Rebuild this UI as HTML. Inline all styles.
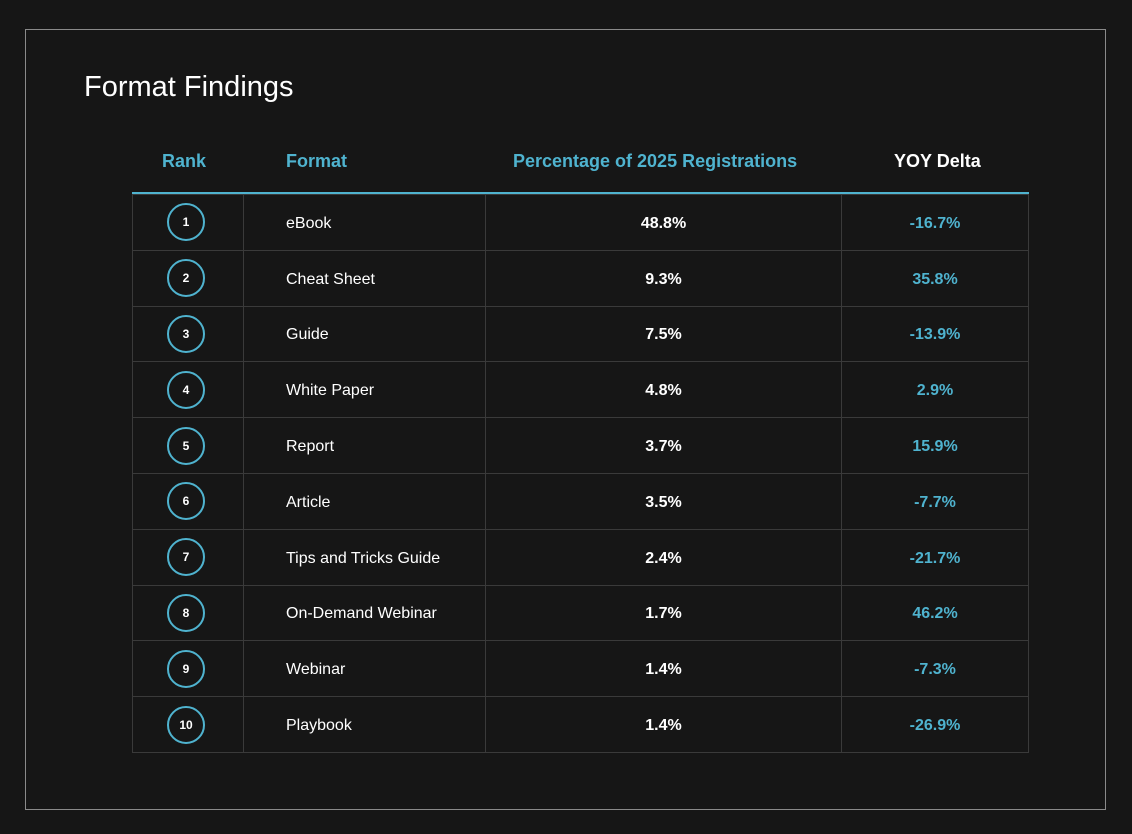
<!DOCTYPE html>
<html><head><style>
body{margin:0;width:1132px;height:834px;background:#161616;font-family:"Liberation Sans",sans-serif;position:relative;overflow:hidden}
.frame{position:absolute;left:25px;top:29px;width:1079px;height:779px;border:1px solid #8a8a8a}
h1{position:absolute;left:84px;top:71px;margin:0;font-size:29px;font-weight:normal;color:#fff}
.hd{position:absolute;top:151px;font-size:18px;font-weight:bold;color:#4fb3cf}
.hline{position:absolute;left:132px;top:192px;width:897px;height:2px;background:#4fb3cf}
table{position:absolute;left:132px;top:194px;border-collapse:collapse}
td{border:1px solid #3a3a3a;height:51.8px;padding:3px 0 0 0;color:#fff;font-size:16px}
.c1{width:106px;text-align:center;padding:0 4px 0 0;height:54.8px}
.c2{width:199px;padding-left:42px}
.c3{width:355px;text-align:center;font-weight:bold}
.c4{width:186px;text-align:center;font-weight:bold;color:#4fb3cf}
.circ{display:inline-block;width:34px;height:34px;border:2px solid #4fb3cf;border-radius:50%;line-height:34px;font-size:12px;font-weight:bold;text-align:center}
</style></head><body>
<div class="frame"></div>
<h1>Format Findings</h1>
<div class="hd" style="left:162px">Rank</div>
<div class="hd" style="left:286px">Format</div>
<div class="hd" style="left:513px">Percentage of 2025 Registrations</div>
<div class="hd" style="left:894px;color:#fff">YOY Delta</div>
<div class="hline"></div>
<table>
<tr><td class="c1"><span class="circ">1</span></td><td class="c2">eBook</td><td class="c3">48.8%</td><td class="c4">-16.7%</td></tr>
<tr><td class="c1"><span class="circ">2</span></td><td class="c2">Cheat Sheet</td><td class="c3">9.3%</td><td class="c4">35.8%</td></tr>
<tr><td class="c1"><span class="circ">3</span></td><td class="c2">Guide</td><td class="c3">7.5%</td><td class="c4">-13.9%</td></tr>
<tr><td class="c1"><span class="circ">4</span></td><td class="c2">White Paper</td><td class="c3">4.8%</td><td class="c4">2.9%</td></tr>
<tr><td class="c1"><span class="circ">5</span></td><td class="c2">Report</td><td class="c3">3.7%</td><td class="c4">15.9%</td></tr>
<tr><td class="c1"><span class="circ">6</span></td><td class="c2">Article</td><td class="c3">3.5%</td><td class="c4">-7.7%</td></tr>
<tr><td class="c1"><span class="circ">7</span></td><td class="c2">Tips and Tricks Guide</td><td class="c3">2.4%</td><td class="c4">-21.7%</td></tr>
<tr><td class="c1"><span class="circ">8</span></td><td class="c2">On-Demand Webinar</td><td class="c3">1.7%</td><td class="c4">46.2%</td></tr>
<tr><td class="c1"><span class="circ">9</span></td><td class="c2">Webinar</td><td class="c3">1.4%</td><td class="c4">-7.3%</td></tr>
<tr><td class="c1"><span class="circ">10</span></td><td class="c2">Playbook</td><td class="c3">1.4%</td><td class="c4">-26.9%</td></tr>
</table>
</body></html>
